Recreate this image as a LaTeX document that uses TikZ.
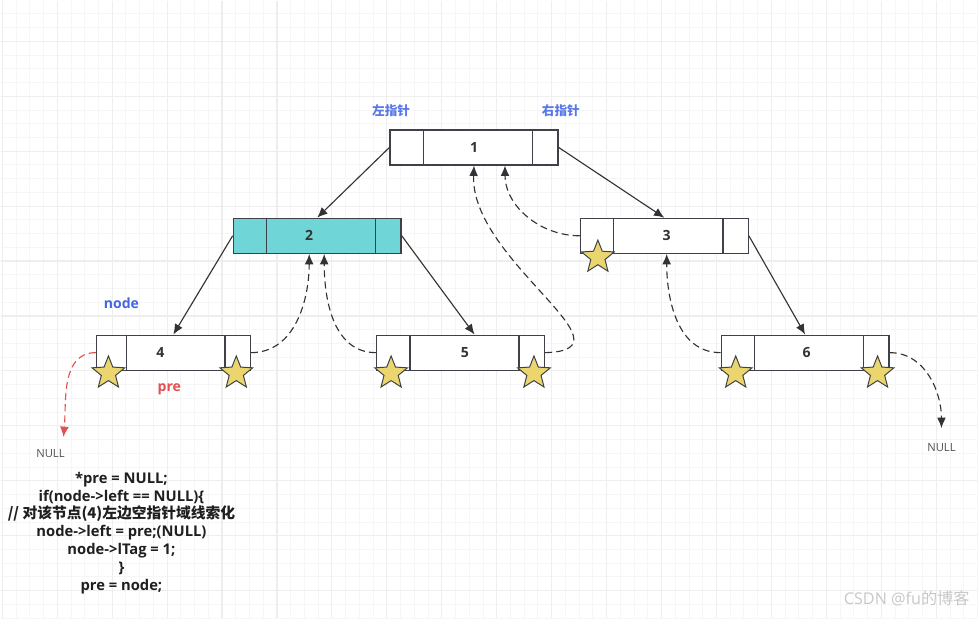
\documentclass[tikz,border=0pt]{standalone}
\usepackage{fontspec}
\setmainfont{Open Sans}
\newfontfamily\cjk{Noto Sans CJK SC}
\usetikzlibrary{arrows.meta,shapes.geometric}

\definecolor{gridminor}{RGB}{246,246,246}
\definecolor{gridmajor}{RGB}{238,238,238}
\definecolor{boxline}{RGB}{62,66,72}
\definecolor{tealfill}{RGB}{112,213,214}
\definecolor{starfill}{RGB}{234,213,110}
\definecolor{ptrblue}{RGB}{88,120,232}
\definecolor{nodeblue}{RGB}{68,102,226}
\definecolor{prered}{RGB}{226,80,80}
\definecolor{inkgray}{RGB}{51,51,51}
\definecolor{markgray}{RGB}{200,200,200}

\begin{document}
\begin{tikzpicture}[
    x=0.025cm, y=-0.025cm,
    cell/.style={draw=boxline, fill=white, line width=0.9pt, minimum width=4.2cm, minimum height=0.875cm, inner sep=0pt},
    num/.style={font=\bfseries\fontsize{10}{12}\selectfont, text=inkgray},
    starmark/.style={star, star points=5, star point ratio=2.3, minimum size=0.86cm, inner sep=0pt, draw=boxline, fill=starfill, line width=0.7pt},
    link/.style={-{Latex[length=2.6mm,width=2.2mm]}, draw=inkgray, line width=0.8pt},
    thread/.style={link, dash pattern=on 5pt off 3pt},
    tag/.style={font=\cjk\bfseries\fontsize{9}{11}\selectfont, text=ptrblue},
    nullnote/.style={font=\fontsize{8}{10}\selectfont, text=inkgray!85}
]
\fill[white] (0,0) rectangle (978,618);
\foreach \i in {0,...,71} \draw[gridminor, line width=0.6pt] (1.7+13.75*\i,0) -- (1.7+13.75*\i,618);
\foreach \j in {-2,...,42} \draw[gridminor, line width=0.6pt] (0,40.75+13.75*\j) -- (978,40.75+13.75*\j);
\foreach \i in {0,...,17} \draw[gridmajor, line width=0.8pt] (1.7+55*\i,0) -- (1.7+55*\i,618);
\foreach \j in {0,...,10} \draw[gridmajor, line width=0.8pt] (0,40.75+55*\j) -- (978,40.75+55*\j);
\useasboundingbox (0,0) rectangle (978,618);

\node[cell, label={[num]center:1}] (n1) at (474,147) {};
\node[cell, fill=tealfill, label={[num, xshift=-0.2cm]center:2}] (n2) at (317,235.5) {};
\node[cell, label={[num, xshift=0.06cm]center:3}] (n3) at (664.5,235.5) {};
\node[cell, minimum width=3.85cm, label={[num, xshift=-0.325cm]center:4}] (n4) at (173,352.5) {};
\node[cell, label={[num, xshift=0.11cm]center:5}] (n5) at (460.5,352.5) {};
\node[cell, label={[num, xshift=0.04cm]center:6}] (n6) at (805.5,352.5) {};

\foreach \n/\d in {n1/0.85cm, n2/0.85cm, n3/0.85cm, n4/0.775cm, n5/0.85cm, n6/0.85cm} {
  \draw[boxline, line width=0.9pt] ([xshift=\d]\n.north west) -- ([xshift=\d]\n.south west);
  \draw[boxline, line width=0.9pt] ([xshift=-0.65cm]\n.north east) -- ([xshift=-0.65cm]\n.south east);
}

\node[starmark] (s3a) at (598,257) {};
\node[starmark] (s4a) at (108,373) {};
\node[starmark] (s4b) at (236,373) {};
\node[starmark] (s5a) at (391,373) {};
\node[starmark] (s5b) at (534,373) {};
\node[starmark] (s6a) at (736,373) {};
\node[starmark] (s6b) at (878,373) {};

\node[tag] (lptr) at (391,110) {左指针};
\node[tag] (rptr) at (561,110) {右指针};
\node[font=\bfseries\fontsize{10}{12}\selectfont, text=nodeblue] (cur) at (121,303) {node};
\node[font=\bfseries\fontsize{10}{12}\selectfont, text=prered] (pre) at (169,389) {pre};

\coordinate (endl) at (63,437);
\coordinate (endr) at (942,428);
\node[nullnote] (nulll) at (50,454) {NULL};
\node[nullnote] (nullr) at (942,447) {NULL};

\draw[link] (n1.west) -- (n2.north);
\draw[link] (n1.east) -- (n3.north);
\draw[link] (n2.west) -- (n4.north);
\draw[link] (n2.east) -- ([xshift=0.35cm]n5.north);
\draw[link] (n3.east) -- (n6.north);

\draw[thread] (n4.east) to[out=0,in=-90] ([xshift=-0.2cm]n2.south);
\draw[thread] (n5.west) to[out=180,in=-90] ([xshift=0.175cm]n2.south);
\draw[thread] (n5.east) .. controls (640,350) and (470,260) .. (n1.south);
\draw[thread] (n3.west) to[out=180,in=-90] ([xshift=0.775cm]n1.south);
\draw[thread] (n6.west) to[out=180,in=-90] ([xshift=0.06cm]n3.south);
\draw[thread] (n6.east) to[out=0,in=90] (endr);
\draw[thread, draw=prered] (n4.west) to[out=180,in=85] (endl);

\node[font=\bfseries\fontsize{10.5}{12.7}\selectfont, text=inkgray!60!black, align=center] (code) at (121,533)
  {*pre = NULL;\\if(node->left == NULL)\{\\{\cjk\bfseries // 对该节点(4)左边空指针域线索化}\\node->left = pre;(NULL)\\node->lTag = 1;\\\}\\pre = node;};

\node[font=\fontsize{11.5}{13}\selectfont, text=markgray, anchor=east] (mark) at (975,599) {CSDN @fu{\cjk 的博客}};
\end{tikzpicture}
\end{document}
